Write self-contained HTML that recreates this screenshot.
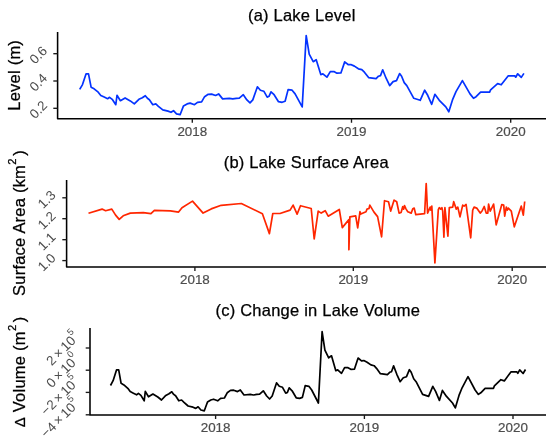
<!DOCTYPE html>
<html><head><meta charset="utf-8"><title>Lake time series</title>
<style>
html,body{margin:0;padding:0;background:#fff;}
svg{display:block;font-family:"Liberation Sans",Arial,sans-serif;}
.t{font-size:16.5px;fill:#000;stroke:#000;stroke-width:0.25px;text-anchor:middle;letter-spacing:0.22px;}
.l{font-size:16.5px;fill:#000;stroke:#000;stroke-width:0.25px;text-anchor:middle;letter-spacing:0.22px;}
.a{font-size:13.4px;fill:#4d4d4d;stroke:#4d4d4d;stroke-width:0.2px;}
.ay{stroke:none;}
.ax{stroke:#000;stroke-width:1.55;fill:none;stroke-linecap:butt;stroke-linejoin:round;}
.tk{stroke:#1a1a1a;stroke-width:1.35;fill:none;}
.ln{fill:none;stroke-width:1.7;stroke-linejoin:round;stroke-linecap:butt;}
</style></head><body>
<svg width="550" height="438" viewBox="0 0 550 438">
<rect width="550" height="438" fill="#fff"/>

<text class="t" x="301.75" y="20.5">(a) Lake Level</text>
<text class="l" transform="translate(20.3,75.3) rotate(-90)">Level (m)</text>
<path class="ax" d="M57.6,32 V118.75 H546.0"/>
<path class="tk" d="M192.3,118.75 v4"/>
<text class="a" text-anchor="middle" x="192.3" y="135.8">2018</text>
<path class="tk" d="M351.5,118.75 v4"/>
<text class="a" text-anchor="middle" x="351.5" y="135.8">2019</text>
<path class="tk" d="M510.7,118.75 v4"/>
<text class="a" text-anchor="middle" x="510.7" y="135.8">2020</text>
<path class="tk" d="M57.6,53.7 h-4.3"/>
<text class="a ay" text-anchor="end" transform="translate(48.1,51.7) rotate(-45)">0.6</text>
<path class="tk" d="M57.6,81.0 h-4.3"/>
<text class="a ay" text-anchor="end" transform="translate(48.1,79.0) rotate(-45)">0.4</text>
<path class="tk" d="M57.6,108.3 h-4.3"/>
<text class="a ay" text-anchor="end" transform="translate(48.1,106.3) rotate(-45)">0.2</text>
<polyline class="ln" stroke="#0433ff" points="79.7,89.4 82.5,84.6 86.1,73.8 88.5,73.8 91.1,87.2 94.1,88.8 98.2,92.2 100.8,95.5 104.2,97.1 107.6,98.7 109.6,97.3 112.2,99.3 115.8,104.7 117.0,95.3 120.4,100.7 125.1,97.9 130.3,100.9 134.3,103.9 138.9,99.3 142.3,97.7 145.3,95.7 147.4,98.3 149.4,99.7 152.8,104.7 155.8,103.9 158.4,106.3 162.8,109.9 168.0,111.1 171.0,112.3 173.5,110.7 176.5,113.9 180.1,114.7 183.5,105.9 187.1,103.9 190.1,103.1 194.5,104.7 197.5,102.3 201.6,101.9 204.6,96.7 208.2,94.3 211.6,94.1 215.6,95.5 218.6,93.9 222.6,98.9 229.3,98.3 232.7,98.9 236.3,98.3 239.3,98.1 243.3,94.7 246.9,99.9 250.0,102.9 252.8,99.9 257.4,86.8 260.4,90.2 263.8,91.2 267.2,97.1 269.0,96.3 271.0,91.8 274.1,94.7 278.5,101.7 282.1,102.3 285.1,101.3 288.1,89.6 292.1,90.2 295.1,93.9 302.2,106.9 306.2,35.6 309.2,54.1 313.2,61.7 316.2,59.7 320.8,74.6 322.9,73.8 326.9,77.2 330.3,71.6 333.9,71.6 336.9,73.2 340.9,73.0 344.7,61.9 348.4,64.7 350.8,64.5 354.4,66.1 358.4,68.8 361.8,69.6 364.4,72.2 368.6,77.6 376.1,78.6 378.5,76.2 380.5,75.6 382.7,69.8 386.1,78.2 389.7,85.6 393.1,81.6 396.5,80.6 399.6,73.6 401.6,76.2 404.2,82.6 406.8,85.6 413.8,98.3 420.2,100.3 424.7,90.2 427.7,95.3 431.7,104.3 434.9,94.3 439.3,100.3 445.8,106.9 448.8,111.8 452.7,99.3 456.0,91.7 462.4,80.6 470.0,93.9 473.5,98.3 476.1,96.7 480.6,92.2 489.6,92.2 490.6,89.8 497.6,83.6 501.2,84.8 508.3,75.8 514.7,75.8 515.7,77.2 517.7,73.8 521.3,77.4 523.9,73.4"/>
<text class="t" x="306.25" y="167.9">(b) Lake Surface Area</text>
<text class="l" transform="translate(24.5,223.0) rotate(-90)">Surface Area (km<tspan font-size="11.2" dy="-9" dx="0.3">2</tspan><tspan dy="9" dx="2.4">)</tspan></text>
<path class="ax" d="M66.6,180 V266.9 H546.0"/>
<path class="tk" d="M194.9,266.9 v4"/>
<text class="a" text-anchor="middle" x="194.9" y="283.6">2018</text>
<path class="tk" d="M353.3,266.9 v4"/>
<text class="a" text-anchor="middle" x="353.3" y="283.6">2019</text>
<path class="tk" d="M512.2,266.9 v4"/>
<text class="a" text-anchor="middle" x="512.2" y="283.6">2020</text>
<path class="tk" d="M66.6,197.8 h-4.3"/>
<text class="a ay" text-anchor="end" transform="translate(56.4,196.1) rotate(-45)">1.3</text>
<path class="tk" d="M66.6,218.7 h-4.3"/>
<text class="a ay" text-anchor="end" transform="translate(56.4,217.0) rotate(-45)">1.2</text>
<path class="tk" d="M66.6,239.7 h-4.3"/>
<text class="a ay" text-anchor="end" transform="translate(56.4,238.0) rotate(-45)">1.1</text>
<path class="tk" d="M66.6,260.6 h-4.3"/>
<text class="a ay" text-anchor="end" transform="translate(56.4,258.9) rotate(-45)">1.0</text>
<polyline class="ln" stroke="#ff2600" points="88.5,213.3 102.1,209.1 105.6,210.7 111.8,209.1 115.6,215.1 119.2,219.4 123.2,215.8 130.3,213.1 143.3,212.7 150.9,213.7 154.4,210.3 170.4,210.9 178.6,212.1 182.0,207.7 192.5,201.1 203.1,213.1 211.2,208.9 221.2,205.3 241.3,203.5 262.4,213.7 269.4,233.6 272.8,213.5 280.0,213.5 290.1,210.1 293.1,205.1 297.1,214.1 300.5,205.7 311.2,208.5 314.2,238.8 318.2,211.1 321.2,213.1 325.2,210.7 328.2,216.2 339.3,209.5 342.3,227.6 348.9,219.6 348.9,249.7 349.9,216.8 355.7,215.8 357.7,227.8 360.0,211.7 360.8,214.1 366.0,211.7 367.0,209.1 369.0,208.5 369.8,205.1 374.0,212.1 377.6,216.6 381.6,236.8 384.5,200.7 388.5,201.7 390.7,211.1 394.1,200.1 396.7,201.7 399.1,213.1 401.1,212.5 402.7,206.7 403.7,209.1 404.5,205.5 406.1,209.1 407.8,211.7 411.2,213.1 412.8,208.7 414.2,208.1 415.8,214.7 424.6,213.7 426.2,183.6 427.6,213.1 430.2,207.1 430.8,210.1 431.8,206.1 434.9,262.9 438.3,209.7 439.3,207.7 440.7,209.1 441.9,207.7 442.7,211.1 443.9,237.2 444.9,207.7 447.9,236.2 449.3,207.7 452.7,207.1 453.7,201.7 456.3,209.1 457.8,207.1 460.0,216.8 462.7,205.1 464.1,206.1 466.1,204.5 470.7,237.8 472.7,210.1 474.1,207.1 476.7,208.1 480.2,213.1 482.2,210.7 484.2,206.5 486.2,213.1 487.8,213.1 488.6,204.1 490.2,211.1 493.6,204.1 496.2,224.8 501.8,204.5 503.7,205.1 504.7,216.2 506.3,207.1 507.3,210.1 508.3,208.1 511.3,211.1 514.3,226.8 521.3,206.1 523.3,215.1 524.7,201.5"/>
<text class="t" x="317.8" y="315.9">(c) Change in Lake Volume</text>
<text class="l" transform="translate(24.5,371.9) rotate(-90)"><tspan font-size="15">Δ</tspan> Volume (m<tspan font-size="11.2" dy="-9" dx="0.3">2</tspan><tspan dy="9" dx="2.4">)</tspan></text>
<path class="ax" d="M90.0,328 V415.0 H546.0"/>
<path class="tk" d="M215.6,415.0 v4"/>
<text class="a" text-anchor="middle" x="215.6" y="432.0">2018</text>
<path class="tk" d="M364.4,415.0 v4"/>
<text class="a" text-anchor="middle" x="364.4" y="432.0">2019</text>
<path class="tk" d="M513,415.0 v4"/>
<text class="a" text-anchor="middle" x="513" y="432.0">2020</text>
<path class="tk" d="M90.0,348 h-4.3"/>
<text class="a ay" text-anchor="end" transform="translate(80.1,338.0) rotate(-45)"><tspan word-spacing="-1.3">2 × 10</tspan><tspan font-size="9.4" dy="-8" dx="-0.3">5</tspan></text>
<path class="tk" d="M90.0,370.2 h-4.3"/>
<text class="a ay" text-anchor="end" transform="translate(80.1,360.2) rotate(-45)"><tspan word-spacing="-1.3">0 × 10</tspan><tspan font-size="9.4" dy="-8" dx="-0.3">0</tspan></text>
<path class="tk" d="M90.0,392.4 h-4.3"/>
<text class="a ay" text-anchor="end" transform="translate(80.1,382.4) rotate(-45)"><tspan word-spacing="-1.3">−2 × 10</tspan><tspan font-size="9.4" dy="-8" dx="-0.3">5</tspan></text>
<path class="tk" d="M90.0,414.8 h-4.3"/>
<text class="a ay" text-anchor="end" transform="translate(80.1,404.8) rotate(-45)"><tspan word-spacing="-1.3">−4 × 10</tspan><tspan font-size="9.4" dy="-8" dx="-0.3">5</tspan></text>
<polyline class="ln" stroke="#000" points="110.5,385.5 113.1,380.7 116.5,369.9 118.7,369.9 121.1,383.3 123.9,384.9 127.8,388.3 130.2,391.6 133.4,393.2 136.6,394.8 138.4,393.4 140.9,395.4 144.2,400.8 145.3,391.4 148.5,396.8 152.9,394.0 157.8,397.0 161.5,400.0 165.8,395.4 169.0,393.8 171.8,391.8 173.7,394.4 175.6,395.8 178.8,400.8 181.6,400.0 184.0,402.4 188.1,406.0 193.0,407.2 195.8,408.4 198.1,406.8 200.9,410.0 204.3,410.8 207.5,402.0 210.8,400.0 213.6,399.2 217.7,400.8 220.6,398.4 224.4,398.0 227.2,392.8 230.5,390.4 233.7,390.2 237.5,391.6 240.3,390.0 244.0,395.0 250.3,394.4 253.4,395.0 256.8,394.4 259.6,394.2 263.3,390.8 266.7,396.0 269.6,399.0 272.2,396.0 276.5,382.9 279.3,386.3 282.5,387.3 285.7,393.2 287.4,392.4 289.2,387.9 292.1,390.8 296.2,397.8 299.6,398.4 302.4,397.4 305.2,385.7 308.9,386.3 311.7,390.0 318.4,403.0 322.1,331.7 324.9,350.2 328.7,357.8 331.5,355.8 335.8,370.7 337.7,369.9 341.5,373.3 344.6,367.7 348.0,367.7 350.8,369.3 354.5,369.1 358.1,358.0 361.5,360.8 363.8,360.6 367.1,362.2 370.9,364.9 374.1,365.7 376.5,368.3 380.4,373.7 387.4,374.7 389.7,372.3 391.5,371.7 393.6,365.9 396.8,374.3 400.1,381.7 403.3,377.7 406.5,376.7 409.4,369.7 411.2,372.3 413.7,378.7 416.1,381.7 422.6,394.4 428.6,396.4 432.8,386.3 435.6,391.4 439.4,400.4 442.4,390.4 446.5,396.4 452.5,403.0 455.3,407.9 459.0,395.4 462.1,387.8 468.0,376.7 475.1,390.0 478.4,394.4 480.8,392.8 485.1,388.3 493.5,388.3 494.4,385.9 500.9,379.7 504.3,380.9 510.9,371.9 516.9,371.9 517.8,373.3 519.7,369.9 523.1,373.5 525.5,369.5"/>
</svg></body></html>
